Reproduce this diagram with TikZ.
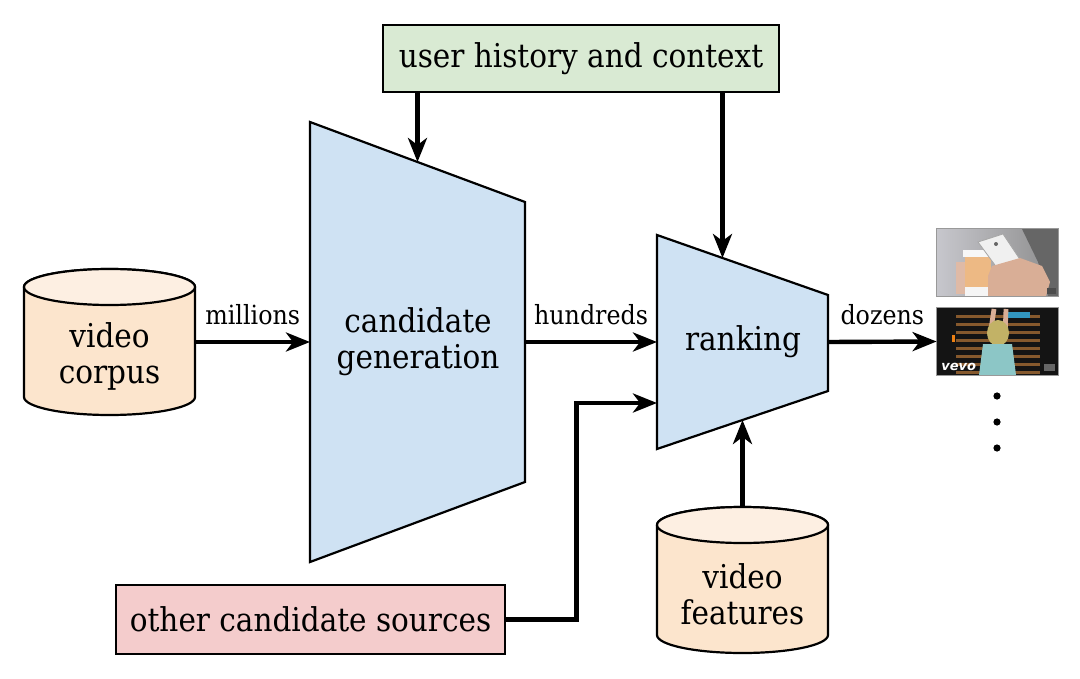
\documentclass[tikz,border=0pt]{standalone}
\usepackage{fontspec}
\setmainfont{DejaVu Serif Condensed}
\newfontfamily\thumbfont{DejaVu Sans}
\usetikzlibrary{arrows.meta,calc}
\definecolor{uhgreen}{HTML}{D9EAD3}
\definecolor{ocpink}{HTML}{F4CCCC}
\definecolor{trblue}{HTML}{CFE2F3}
\definecolor{cylbody}{HTML}{FCE5CD}
\definecolor{cyltop}{HTML}{FDEFE2}
\definecolor{skin}{HTML}{D9AE96}
\tikzstyle{flow}=[line width=2.2pt, -{Stealth[length=12pt,width=9.5pt,inset=3.5pt]}]
\tikzstyle{srcbox}=[draw, line width=1.1pt, inner sep=0pt, font=\fontsize{16.4}{18}\selectfont]
\tikzstyle{stage}=[align=center, font=\fontsize{16.4}{18}\selectfont]
\tikzstyle{lbl}=[font=\fontsize{13.2}{15}\selectfont, inner sep=0pt]
% cylinder: name, centre x, top ellipse y, bottom ellipse y, text
\newcommand{\dbcyl}[5]{
  \path[draw, line width=1.1pt, fill=cylbody] (#2-85.5,#3) -- (#2-85.5,#4)
    arc[start angle=180, end angle=360, x radius=42.75pt, y radius=9pt]
    -- (#2+85.5,#3)
    arc[start angle=0, end angle=180, x radius=42.75pt, y radius=9pt] -- cycle;
  \draw[line width=1.1pt, fill=cyltop] (#2,#3) ellipse [x radius=42.75pt, y radius=9pt];
  \node[minimum width=85.5pt, minimum height={(#4-#3+36)*0.5pt}, inner sep=0pt] (#1) at (#2,{(#3+#4)/2}) {};
  \node[stage] (#1-txt) at (#2,{(#3+#4)/2+14}) {#5};
}

\begin{document}
\begin{tikzpicture}[x=0.5pt, y=-0.5pt]
\useasboundingbox (0,0) rectangle (1080,679);

\node[srcbox, fill=uhgreen, minimum width=198pt, minimum height=33.5pt] (uh) at (581,58.5) {user history and context};
\node[srcbox, fill=ocpink, minimum width=194.5pt, minimum height=34.5pt] (oc) at (310.5,619.5) {other candidate sources};

\dbcyl{vc}{109.5}{287}{397}{video\\corpus}
\dbcyl{vf}{742.5}{525}{635}{video\\features}

% funnels
\draw[line width=1.1pt, fill=trblue] (310,122) coordinate (cg-tl) -- (525,202) coordinate (cg-tr)
  -- (525,482) coordinate (cg-br) -- (310,562) coordinate (cg-bl) -- cycle;
\node[stage] (cg) at (418,342) {candidate\\generation};
\draw[line width=1.1pt, fill=trblue] (657,235) coordinate (rk-tl) -- (828,295) coordinate (rk-tr)
  -- (828,391) coordinate (rk-br) -- (657,449) coordinate (rk-bl) -- cycle;
\node[stage] (rk) at (743,342) {ranking};

% thumbnails
\node[minimum width=60.5pt, minimum height=33.5pt, inner sep=0pt] (th1) at (997.5,262.5) {};
\node[minimum width=60.5pt, minimum height=33.5pt, inner sep=0pt] (th2) at (997.5,341.5) {};
\begin{scope}
\clip (th1.north west) rectangle (th1.south east);
\fill[left color=blue!10!black!22, right color=black!45] (th1.north west) rectangle (th1.south east);
\fill[black!60] (1022,229) -- (1058,229) -- (1058,296) -- (1048,296) -- (1038,262) -- cycle;
\fill[skin!85] (956,262) rectangle (970,294);
\fill[black!3] (963,250) rectangle (993,257);
\fill[orange!50!brown!55] (965,257) rectangle (991,287);
\fill[black!4] (965,287) rectangle (991,296);
\fill[black!6] (978,242) -- (1003,234) -- (1025,267) -- (1003,276) -- cycle;
\draw[black!35, line width=0.4pt] (978,242) -- (1003,234) -- (1025,267) -- (1003,276) -- cycle;
\fill[black!60] (996,244) circle[radius=1pt];
\fill[skin] (992,266) -- (1020,258) -- (1042,266) -- (1050,282) -- (1046,296) -- (988,296) -- (988,276) -- cycle;
\fill[black!70] (1047,288) rectangle (1056,294);
\end{scope}
\draw[black!40, line width=0.4pt] (th1.north west) rectangle (th1.south east);

\begin{scope}
\clip (th2.north west) rectangle (th2.south east);
\fill[black!92] (th2.north west) rectangle (th2.south east);
\foreach \y in {315,323,...,371}{
	\fill[brown!70!black] (956,\y) rectangle (1040,\y+3);
	}
\fill[orange!70!brown] (952,335) rectangle (955,342);
\fill[cyan!50!teal] (1005,312) rectangle (1030,318);
\draw[skin, line width=2.4pt] (990,336) -- (994,309) (1005,336) -- (1006,309);
\fill[orange!35!yellow!60!black!60] (998,333) ellipse [x radius=5.5pt, y radius=6.5pt];
\fill[teal!45] (983,344) -- (1012,344) -- (1016,375) -- (979,375) -- cycle;
\fill[black!60] (1044,364) rectangle (1055,371);
\node[text=white, anchor=base west, inner sep=0pt, font=\thumbfont\bfseries\itshape\fontsize{6.5}{7}\selectfont] (vevo) at (941,370) {vevo};
\end{scope}
\draw[black!40, line width=0.4pt] (th2.north west) rectangle (th2.south east);
\foreach \y in {396,422,448}{
	\fill (997,\y) circle[radius=1.8pt];
	}

% connectors
\coordinate (cg-in) at ($(cg-tl)!0.5!(cg-tr)$);
\coordinate (rk-in) at ($(rk-tl)!0.383!(rk-tr)$);
\coordinate (rk-vf) at ($(rk-bl)!0.5!(rk-br)$);
\coordinate (rk-oc) at (657,403);
\draw[flow] (uh.south -| cg-in) -- (cg-in);
\draw[flow] (uh.south -| rk-in) -- (rk-in);
\draw[flow] (vc.east) -- (vc.east -| cg-tl) node[lbl, midway, above=7.5pt] {millions};
\draw[flow] (cg.center -| cg-tr) -- (rk.center -| rk-tl) node[lbl, midway, above=7.5pt] {hundreds};
\draw[flow] (rk.center -| rk-tr) -- (th2.west) node[lbl, midway, above=7.5pt] {dozens};
\draw[flow] (oc.east) -- ++(70.5,0) |- (rk-oc);
\draw[flow] (vf.north) -- (rk-vf);
\end{tikzpicture}
\end{document}
